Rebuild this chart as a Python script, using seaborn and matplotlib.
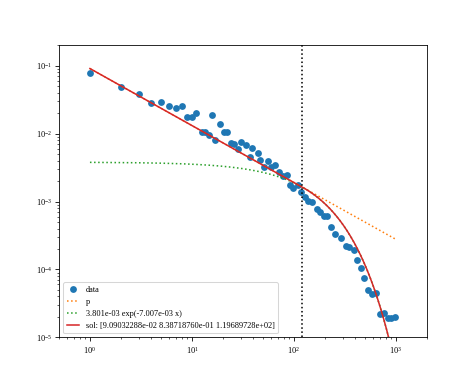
import numpy as np
import matplotlib
matplotlib.use("Agg")
import matplotlib.pyplot as plt
import seaborn as sns

x_data = [1, 2, 3, 4, 5, 6, 7, 8, 9, 10, 11, 12.5, 13.4, 14.6, 15.8, 17, 18.9,
          20.5, 22, 24.4, 26, 28.4, 30.6, 33.7, 36.7, 39.2, 44, 47, 50.6, 56,
          60, 65.5, 71.6, 77.7, 85.7, 92.4, 98.9, 110, 117.6, 128.8, 138.7,
          149.4, 167.2, 180.6, 199, 212.9, 232.9, 251, 292, 321, 350, 385,
          412, 455, 490, 537, 578, 643, 692, 758, 837, 896, 986]
y_data = [0.079, 0.048, 0.039, 0.0285, 0.0294, 0.0254, 0.024, 0.0257, 0.0177,
          0.0177, 0.020, 0.0105, 0.0105, 0.0096, 0.0189, 0.0081, 0.0139,
          0.0105, 0.0104, 0.0072, 0.0070, 0.0059, 0.0076, 0.0068, 0.0046,
          0.0062, 0.0052, 0.0041, 0.0032, 0.0039, 0.0032, 0.0035, 0.0027,
          0.00235, 0.00246, 0.00176, 0.00158, 0.00176, 0.0014, 0.00116,
          0.00101, 0.00097, 0.000775, 0.000707, 0.000617, 0.00061, 0.000416,
          0.000335, 0.000292, 0.000223, 0.000211, 0.00019, 0.000137, 0.000104,
          7.4e-5, 5.0e-5, 4.3e-5, 4.5e-5, 2.2e-5, 2.3e-5, 1.9e-5, 1.9e-5,
          1.97e-5]

# fit parameters shown in the legend: amplitude, power-law index, cutoff
sol = [9.09032288e-02, 8.38718760e-01, 1.19689728e+02]

a, b, c = sol
x = np.arange(1, 1001)
p = a * x ** (-b)
# exponential tail matched to the power law at the cutoff
k = b / c
A = a * c ** (-b) * np.exp(b)
tail = A * np.exp(-k * x)
model = np.where(x < c, p, tail)

plt.rcParams["font.family"] = "serif"
plt.rcParams["font.serif"] = ["Liberation Serif"]
plt.rcParams["mathtext.fontset"] = "stix"
plt.rcParams["font.size"] = 8

fig, ax = plt.subplots(figsize=(6.4, 5.12))

sns.scatterplot(x=x_data, y=y_data, ax=ax, color="C0", s=44, linewidth=0, label="data")
sns.lineplot(x=x, y=p, ax=ax, color="C1", linestyle=":", label="p")
sns.lineplot(x=x, y=tail, ax=ax, color="C2", linestyle=":",
             label=f"{A:.3e} exp(-{k:.3e} x)")
sns.lineplot(x=x, y=model, ax=ax, color="C3",
             label="sol: [" + " ".join(f"{v:.8e}" for v in sol) + "]")
ax.axvline(c, color="k", linestyle=":")

ax.set_xscale("log")
ax.set_yscale("log")
ax.set_xlim(0.5, 2000)
ax.set_ylim(1e-5, 0.2)
ax.legend(loc="lower left", handlelength=1.5)

fig.savefig("out.png", dpi=474 / 6.4)
